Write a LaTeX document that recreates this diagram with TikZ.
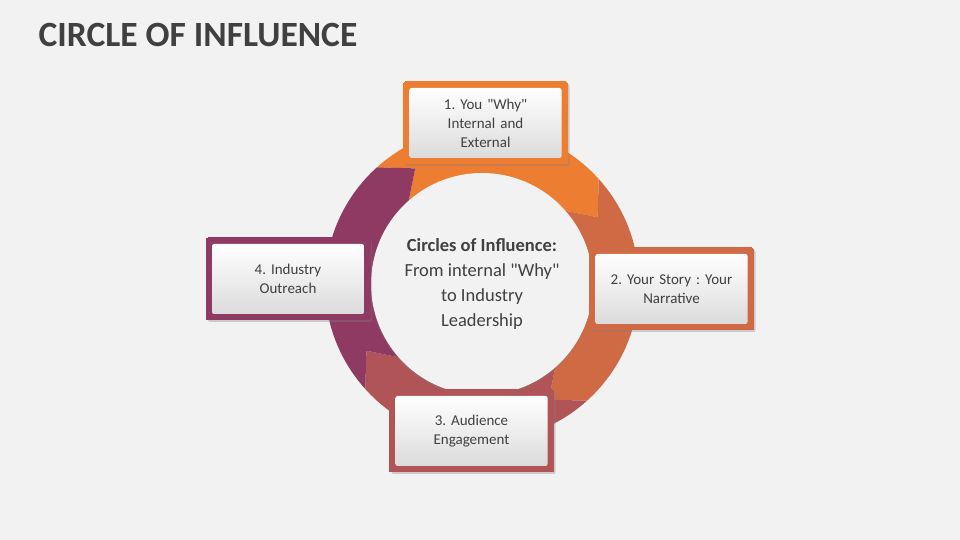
\documentclass[tikz,border=0pt]{standalone}
\usepackage{fontspec}
\setmainfont{Carlito}[Ligatures=TeXOff]
\usetikzlibrary{shadows,calc}
\definecolor{bg}{HTML}{F2F2F2}
\definecolor{cA}{HTML}{ED7D31}
\definecolor{cB}{HTML}{D06A45}
\definecolor{cC}{HTML}{B05457}
\definecolor{cD}{HTML}{8E3A62}
\definecolor{txt}{HTML}{404040}
\tikzset{
  outerbox/.style={draw=#1, fill=#1, line width=0pt, rounded corners=2pt, minimum width=164pt, minimum height=82pt, drop shadow={opacity=0.35, shadow xshift=2pt, shadow yshift=-2pt}},
  innerbox/.style={rounded corners=2pt, top color=white, bottom color=black!14, minimum width=152pt, minimum height=70pt, align=center, text width=144pt, font=\fontsize{15}{19}\selectfont, text=txt},
}
\newcommand{\seg}[3]{% start angle, end angle, color
  \fill[#3] ($(C)+(#1:157)$) arc[start angle=#1, end angle=#2, radius=157]
    -- ($(C)+(#2-12:133.5)$) -- ($(C)+(#2:110)$)
    arc[start angle=#2, end angle=#1, radius=110]
    -- ($(C)+(#1-12:133.5)$) -- cycle;}
\begin{document}
\frenchspacing
\begin{tikzpicture}[x=1pt,y=1pt]
\fill[bg] (0,0) rectangle (960,540);
\useasboundingbox (0,0) rectangle (960,540);
\node[anchor=west, font=\fontsize{35.5}{38}\selectfont\bfseries, text=txt] (title) at (35,505) {CIRCLE OF INFLUENCE};
\coordinate (C) at (482,256);
\seg{132}{42}{cA}
\seg{42}{-48}{cB}
\seg{-48}{-138}{cC}
\seg{-138}{-228}{cD}
\node[circle, fill=bg, minimum size=222pt, drop shadow={opacity=0.3, shadow xshift=0pt, shadow yshift=-2pt}, align=center, text=txt, font=\fontsize{18.5}{25}\selectfont] (centre) at (C)
  {\textbf{Circles of Influence:}\\ From internal "Why"\\ to Industry\\ Leadership};
\node[outerbox=cA] (b1o) at (485.5,417) {};
\node[innerbox] (b1) at (b1o) {1. You "Why"\\ Internal and\\ External};
\node[outerbox=cB] (b2o) at (671.5,251) {};
\node[innerbox] (b2) at (b2o) {2. Your Story : Your\\ Narrative};
\node[outerbox=cC] (b3o) at (471.5,109) {};
\node[innerbox] (b3) at (b3o) {3. Audience\\ Engagement};
\node[outerbox=cD] (b4o) at (288,261) {};
\node[innerbox] (b4) at (b4o) {4. Industry\\ Outreach};
\end{tikzpicture}
\end{document}
